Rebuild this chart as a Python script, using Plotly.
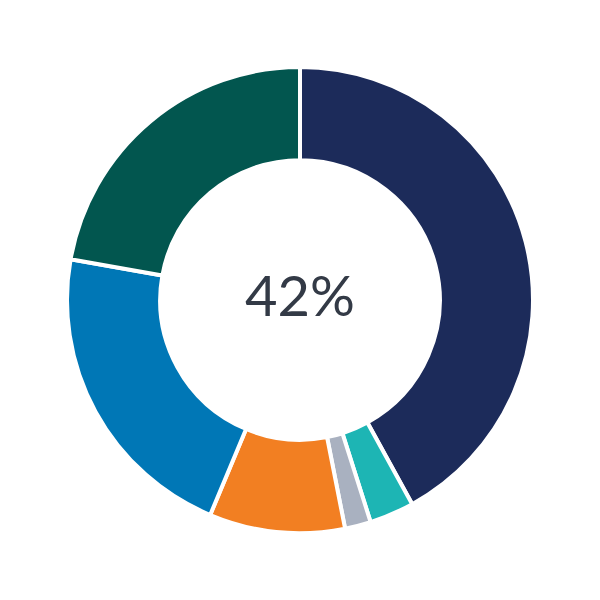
import plotly.graph_objects as go

labels = ["Navy", "Teal", "Gray", "Orange", "Blue", "Dark green"]
values = [42.0, 3.1, 1.8, 9.4, 21.5, 22.2]
colors = ["#1c2b5a", "#1db5b4", "#a9b1c0", "#f27f22", "#0077b6", "#02564f"]
center_text = "42%"

cx = 292 / 600
cy = 1 - 292 / 600
r = 233 / 600

fig = go.Figure(go.Pie(
    labels=labels, values=values, hole=0.6, sort=False,
    direction="clockwise", rotation=0,
    marker=dict(colors=colors, line=dict(color="white", width=4)),
    textinfo="none", hoverinfo="label+percent",
    domain=dict(x=[cx - r, cx + r], y=[cy - r, cy + r]),
))
fig.add_annotation(text=center_text, x=cx, y=cy, xref="paper", yref="paper", yshift=6,
                   showarrow=False, font=dict(family="Lato", size=56, color="#333a46"))
fig.update_layout(width=600, height=600, margin=dict(l=0, r=0, t=0, b=0),
                  paper_bgcolor="white", plot_bgcolor="white", showlegend=False)
fig.write_html("out.html")
